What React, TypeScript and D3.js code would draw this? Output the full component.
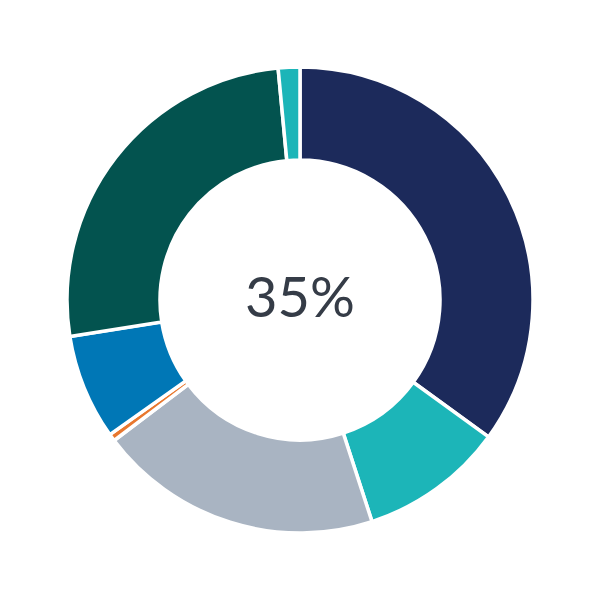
import React from 'react';
import * as d3 from 'd3';

// Slice shares (percent), clockwise from 12 o'clock
const labels = ['Navy', 'Teal', 'Gray', 'Orange', 'Blue', 'Dark teal', 'Small teal'];
const values = [35, 10, 19.7, 0.5, 7.3, 26, 1.5];
const colors = ['#1c2a5b', '#1cb5b8', '#a9b4c2', '#e8772e', '#0077b6', '#03534f', '#1cb5b8'];
const centerLabel = '35%';

const App: React.FC = () => {
  const width = 600;
  const height = 600;
  const cx = 300 - 8;
  const cy = 300 - 8;
  const outerR = 233;
  const innerR = 140;

  const pie = d3.pie<number>().sort(null).value(d => d);
  const arcs = pie(values);
  const arc = d3.arc<d3.PieArcDatum<number>>().innerRadius(innerR).outerRadius(outerR);

  return (
    <svg width={width - 16} height={height - 16} style={{ display: 'block' }}>
      <g transform={`translate(${cx},${cy})`}>
        {arcs.map((a, i) => (
          <path
            key={labels[i] + i}
            d={arc(a) || ''}
            fill={colors[i]}
            stroke="#ffffff"
            strokeWidth={3.5}
          />
        ))}
        <text
          x={0}
          y={-5}
          textAnchor="middle"
          dominantBaseline="central"
          fontFamily="Lato, 'Open Sans', sans-serif"
          fontWeight={400}
          fontSize={56}
          fill="#353c47"
        >
          {centerLabel}
        </text>
      </g>
    </svg>
  );
};

export default App;
